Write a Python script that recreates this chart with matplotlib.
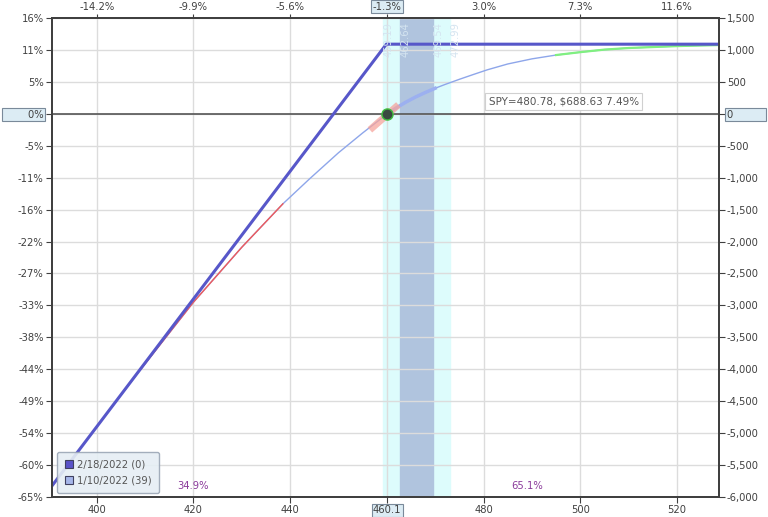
import matplotlib
matplotlib.use("Agg")
import matplotlib.pyplot as plt
from matplotlib.patches import Patch

# values
exp_x = [390.75, 459.9, 528.6]
exp_y = [-5825, 1090, 1090]

t0_x = [390.75, 400, 409, 420, 430, 438.5, 444, 450, 455, 460.1, 462, 464, 466, 468, 470,
        472, 475, 478, 480.78, 485, 490, 495, 500, 505, 510, 515, 520, 525, 528.6]
t0_y = [-5830, -4900, -4010, -2950, -2090, -1410, -1020, -610, -300, 0, 95, 185, 265, 335, 400,
        458, 540, 618, 688.63, 780, 860, 920, 965, 1005, 1030, 1045, 1060, 1070, 1076]

sd1 = (462.64, 469.54)
sd2 = (459.19, 472.99)
band_labels = ["459.19", "462.64", "469.54", "472.99"]

x_ticks = [400, 420, 440, 460.1, 480, 500, 520]
x_labels = ["400", "420", "440", "460.1", "480", "500", "520"]
top_labels = ["-14.2%", "-9.9%", "-5.6%", "-1.3%", "3.0%", "7.3%", "11.6%"]

y_ticks = list(range(-6000, 1501, 500))
left_labels = ["-65%", "-60%", "-54%", "-49%", "-44%", "-38%", "-33%", "-27%", "-22%",
               "-16%", "-11%", "-5%", "0%", "5%", "11%", "16%"]
right_labels = ["-6,000", "-5,500", "-5,000", "-4,500", "-4,000", "-3,500", "-3,000",
                "-2,500", "-2,000", "-1,500", "-1,000", "-500", "0", "500", "1,000", "1,500"]

price, pnl, pct = 480.78, 688.63, 7.49
prob_left, prob_right = "34.9%", "65.1%"
legend_names = ["2/18/2022 (0)", "1/10/2022 (39)"]

plt.rcParams["font.family"] = ["DejaVu Sans"]
plt.rcParams["font.size"] = 7.2
txt = "#404040"
spine = "#404040"

fig = plt.figure(figsize=(7.68, 5.17), dpi=100)
ax = fig.add_axes([52 / 768, 20 / 517, 666.5 / 768, 479 / 517])
ax.set_xlim(390.75, 528.6)
ax.set_ylim(-6000, 1500)

# std dev bands
ax.axvspan(sd2[0], sd2[1], color="#ddfcfc", zorder=0)
ax.axvspan(sd1[0], sd1[1], color="#b0c4de", zorder=0.5)
for xv, lab in zip([sd2[0], sd1[0], sd1[1], sd2[1]], band_labels):
    ax.text(xv + 0.2, 1440, lab, rotation=90, va="top", ha="left", color="#d4e4f0",
            fontsize=7.2, zorder=5)

ax.grid(True, color="#dcdcdc", lw=1, zorder=0.6)
ax.set_axisbelow(True)
ax.axhline(0, color="#555555", lw=1.2, zorder=2)

# lines
ax.plot(t0_x, t0_y, color="#8ea6ea", lw=1, zorder=3)
ax.plot(t0_x[2:6], t0_y[2:6], color="#f05a5a", lw=1, zorder=3.1)
ax.plot(t0_x[21:], t0_y[21:], color="#80f080", lw=1.6, zorder=3.1)
ax.plot(t0_x[9:15], t0_y[9:15], color="#9cb0f0", lw=2.5, zorder=3.1)
ax.plot(exp_x, exp_y, color="#5757c9", lw=2.2, zorder=4)

# delta marker
ax.plot([456.5, 462.4], [-252, 141], color="#f6a49c", lw=5, alpha=0.75, zorder=3.5,
        solid_capstyle="butt")
ax.plot([460.1], [0], marker="o", ms=8, mfc="#3a4a40", mec="#40c040", mew=1, zorder=6)

# probabilities
ax.text(420, -5820, prob_left, color="#8a3a9a", ha="center", va="center", fontsize=7.2)
ax.text(489, -5820, prob_right, color="#8a3a9a", ha="center", va="center", fontsize=7.2)

# tooltip
ax.annotate(f"SPY={price}, ${pnl} {pct}%", xy=(price, pnl), xytext=(1, -23),
            textcoords="offset points", ha="left", va="center", color="#555555",
            fontsize=7.5, zorder=7,
            bbox=dict(boxstyle="square,pad=0.35", fc="white", ec="#d0d0d0", lw=0.8))

# axes / ticks
ax.set_xticks(x_ticks)
ax.set_xticklabels(x_labels, color=txt)
ax.set_yticks(y_ticks)
ax.set_yticklabels([l if i != 12 else "        0%" for i, l in enumerate(left_labels)],
                   color=txt)
ax.tick_params(length=4, color=spine, pad=2)
for s in ax.spines.values():
    s.set_color(spine)
    s.set_linewidth(1.2)

axr = ax.twinx()
axr.set_ylim(ax.get_ylim())
axr.set_yticks(y_ticks)
axr.set_yticklabels([l if i != 12 else "0          " for i, l in enumerate(right_labels)],
                    color=txt)
axr.tick_params(length=4, color=spine, pad=2)

axt = ax.twiny()
axt.set_xlim(ax.get_xlim())
axt.set_xticks(x_ticks)
axt.set_xticklabels(top_labels, color=txt)
axt.tick_params(length=3, color=spine, pad=1.5)
for a in (axr, axt):
    for s in a.spines.values():
        s.set_color(spine)
        s.set_linewidth(1.2)

box = dict(boxstyle="square,pad=0.15", fc="#dcecf4", ec="#7a8a9a", lw=0.8)
ax.get_xticklabels()[3].set_bbox(box)
axt.get_xticklabels()[3].set_bbox(box)
ax.get_yticklabels()[12].set_bbox(box)
axr.get_yticklabels()[12].set_bbox(box)

# legend
handles = [Patch(fc="#5a52c8", ec="#404060", lw=0.8),
           Patch(fc="#a6b6ea", ec="#404060", lw=0.8)]
leg = ax.legend(handles, legend_names, loc="lower left", bbox_to_anchor=(0.008, 0.008),
                borderaxespad=0, frameon=True, fancybox=True, handlelength=0.8,
                handleheight=0.8, handletextpad=0.4, labelspacing=0.6, borderpad=0.75,
                fontsize=7.2)
leg.get_frame().set_facecolor("#e6eef4")
leg.get_frame().set_edgecolor("#9aa6b6")
leg.get_frame().set_alpha(0.9)
for t in leg.get_texts():
    t.set_color("#555555")
leg.set_zorder(8)

fig.savefig("out.png", dpi=100)
